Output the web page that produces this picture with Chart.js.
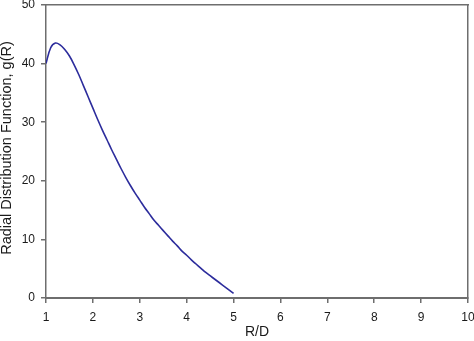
<!DOCTYPE html>
<html>
<head>
<meta charset="utf-8">
<style>
  html, body { margin: 0; padding: 0; background: #fff; }
  #wrap { width: 474px; height: 341px; }
</style>
<script src="https://cdn.jsdelivr.net/npm/chart.js@4/dist/chart.umd.min.js"></script>
</head>
<body>
<div id="wrap"><canvas id="chart" width="474" height="341"></canvas></div>
<script>
// R/D values and g(R)
const rValues = [1.0, 1.1, 1.2, 1.3, 1.4, 1.5, 1.6, 1.7, 1.8, 1.9, 2.0,
  2.1, 2.2, 2.3, 2.4, 2.5, 2.6, 2.7, 2.8, 2.9, 3.0,
  3.1, 3.2, 3.3, 3.4, 3.5, 3.6, 3.7, 3.8, 3.9, 4.0,
  4.1, 4.2, 4.3, 4.4, 4.5, 4.6, 4.7, 4.8, 4.9, 5.0];
const gValues = [40.0, 42.7, 43.5, 43.2, 42.4, 41.3, 39.8, 38.1, 36.2, 34.3, 32.4,
  30.5, 28.7, 27.0, 25.3, 23.7, 22.1, 20.6, 19.2, 17.9, 16.7,
  15.5, 14.4, 13.3, 12.4, 11.5, 10.6, 9.7, 8.9, 8.0, 7.3,
  6.5, 5.8, 5.1, 4.4, 3.8, 3.2, 2.6, 2.0, 1.4, 0.8];

const xTicks = [1, 2, 3, 4, 5, 6, 7, 8, 9, 10];
const yTicks = [0, 10, 20, 30, 40, 50];

const xTitle = 'R/D';
const yTitle = 'Radial Distribution Function, g(R)';

const AXIS_COLOR = '#6e6e6e';
const TEXT_COLOR = '#1a1a1a';
const FONT = '"Liberation Sans", Arial, sans-serif';

const points = rValues.map((r, i) => ({ x: r, y: gValues[i] }));

// rotated y title, sits a little above the plot centre like the original
const yTitlePlugin = {
  id: 'yTitle',
  afterDraw(chart) {
    const { ctx } = chart;
    ctx.save();
    ctx.font = '14.5px ' + FONT;
    ctx.fillStyle = TEXT_COLOR;
    ctx.textAlign = 'center';
    ctx.textBaseline = 'alphabetic';
    ctx.translate(10.5, 148);
    ctx.rotate(-Math.PI / 2);
    ctx.fillText(yTitle, 0, 0);
    ctx.restore();
  }
};

const tickGrid = {
  drawOnChartArea: false,
  drawTicks: true,
  tickLength: 5,
  color: AXIS_COLOR,
  lineWidth: 1.5
};

const noPad = s => { s.paddingTop = 0; s.paddingBottom = 0; s.paddingLeft = 0; s.paddingRight = 0; };

new Chart(document.getElementById('chart'), {
  type: 'line',
  data: {
    datasets: [{
      data: points,
      borderColor: '#2c2c9c',
      borderWidth: 1.6,
      pointRadius: 0,
      tension: 0.4,
      fill: false
    }]
  },
  options: {
    responsive: false,
    animation: false,
    layout: { padding: { top: 5, right: 6, left: 0, bottom: 0 } },
    plugins: { legend: { display: false }, tooltip: { enabled: false } },
    scales: {
      x: {
        type: 'linear',
        position: 'bottom',
        min: xTicks[0],
        max: xTicks[xTicks.length - 1],
        afterBuildTicks: s => { s.ticks = xTicks.map(v => ({ value: v })); },
        ticks: { color: TEXT_COLOR, font: { family: FONT, size: 12 }, padding: 7, maxRotation: 0 },
        grid: tickGrid,
        border: { color: AXIS_COLOR, width: 2 },
        title: { display: true, text: xTitle, color: TEXT_COLOR, font: { family: FONT, size: 14 }, padding: { top: 3, bottom: 0 } },
        afterFit: s => { s.height = 43; noPad(s); }
      },
      y: {
        position: 'left',
        min: yTicks[0],
        max: yTicks[yTicks.length - 1],
        afterBuildTicks: s => { s.ticks = yTicks.map(v => ({ value: v })); },
        ticks: { color: TEXT_COLOR, font: { family: FONT, size: 12 }, padding: 6 },
        grid: tickGrid,
        border: { color: AXIS_COLOR, width: 1.5 },
        afterFit: s => { s.width = 46; noPad(s); }
      },
      xTop: {
        type: 'linear',
        position: 'top',
        min: xTicks[0],
        max: xTicks[xTicks.length - 1],
        ticks: { display: false },
        grid: { display: false, drawTicks: false },
        border: { color: AXIS_COLOR, width: 1.5 },
        afterFit: s => { s.height = 0; noPad(s); }
      },
      yRight: {
        position: 'right',
        min: yTicks[0],
        max: yTicks[yTicks.length - 1],
        ticks: { display: false },
        grid: { display: false, drawTicks: false },
        border: { color: AXIS_COLOR, width: 1.5 },
        afterFit: s => { s.width = 0; noPad(s); }
      }
    }
  },
  plugins: [yTitlePlugin]
});
</script>
</body>
</html>
